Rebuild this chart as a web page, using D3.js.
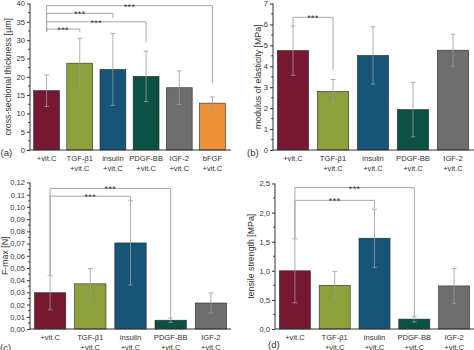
<!DOCTYPE html>
<html><head><meta charset="utf-8">
<script src="https://cdn.jsdelivr.net/npm/d3@7"></script>
<style>
html,body{margin:0;padding:0;background:#fff;}
svg{display:block;font-family:"Liberation Sans",Arial,sans-serif;}
</style></head>
<body><svg id="c" width="474" height="350"></svg>
<script>
// ---------- data ----------
const categories6 = [["+vit.C"],["TGF-β1","+vit.C"],["insulin","+vit.C"],["PDGF-BB","+vit.C"],["IGF-2","+vit.C"],["bFGF","+vit.C"]];
const categories5 = categories6.slice(0,5);
const barColors = ["#761832","#8ca03c","#165478","#0c5244","#6e6e6e","#eb9137"];

const thicknessMean = [16.2, 23.7, 22.0, 20.1, 17.0, 12.8];
const thicknessErr  = [4.3, 6.8, 9.8, 6.9, 4.6, 1.7];
const modulusMean = [4.75, 2.80, 4.52, 1.93, 4.77];
const modulusErr  = [1.18, 0.57, 1.37, 1.30, 0.76];
const fmaxMean = [0.0297, 0.0370, 0.0705, 0.0072, 0.0213];
const fmaxErr  = [0.0140, 0.0125, 0.0345, 0.0018, 0.0082];
const tensileMean = [1.00, 0.75, 1.56, 0.17, 0.74];
const tensileErr  = [0.55, 0.24, 0.50, 0.05, 0.30];

const ticksA = [0,5,10,15,20,25,30,35,40];
const ticksB = [0,1,2,3,4,5,6,7];
const ticksC = [0,0.01,0.02,0.03,0.04,0.05,0.06,0.07,0.08,0.09,0.10,0.11,0.12];
const tickLabelsC = ["0,00","0,01","0,02","0,03","0,04","0,05","0,06","0,07","0,08","0,09","0,10","0,11","0,12"];
const ticksD = [0,0.5,1.0,1.5,2.0,2.5];
const tickLabelsD = ["0,0","0,5","1,0","1,5","2,0","2,5"];

// significance brackets: from, to, level, left leg end, right leg end
const sigA = [
  {from:0,to:5,level:39.4,leftEnd:32.3,rightEnd:18.3},
  {from:0,to:2,level:37.3,leftEnd:32.3,rightEnd:36.0},
  {from:0,to:3,level:35.0,leftEnd:32.3,rightEnd:29.3},
  {from:0,to:1,level:33.0,leftEnd:32.3,rightEnd:32.3}
];
const sigB = [{from:0,to:1,level:6.34,leftEnd:5.97,rightEnd:3.84}];
const sigC = [
  {from:0,to:3,level:0.1151,leftEnd:0.0440,rightEnd:0.0095},
  {from:0,to:2,level:0.1088,leftEnd:0.0440,rightEnd:0.1050}
];
const sigD = [
  {from:0,to:3,level:2.43,leftEnd:1.56,rightEnd:0.23},
  {from:0,to:2,level:2.21,leftEnd:1.56,rightEnd:2.08}
];

// ---------- drawing ----------
const svg = d3.select("#c");

function panel(o){
  const g = svg.append("g");
  const x = d3.scaleBand().domain(d3.range(o.cats.length)).range([o.x0,o.x1]).paddingInner(0.22).paddingOuter(0.11);
  const y = d3.scaleLinear().domain([0,o.max]).range([o.yb,o.yt]);
  const rows = o.mean.map((m,i)=>({i,m,e:o.err[i]}));

  // bars
  g.selectAll("rect.bar").data(rows).join("rect")
    .attr("x",d=>x(d.i)).attr("width",x.bandwidth())
    .attr("y",d=>y(d.m)).attr("height",d=>y(0)-y(d.m))
    .attr("fill",d=>barColors[d.i]).attr("stroke","#2a2a2a").attr("stroke-width",0.6);

  // error bars
  const cw = 2.4;
  const eb = g.selectAll("g.eb").data(rows).join("g").attr("stroke","#9a9a9a").attr("stroke-width",0.8);
  eb.append("line").attr("x1",d=>x(d.i)+x.bandwidth()/2).attr("x2",d=>x(d.i)+x.bandwidth()/2)
    .attr("y1",d=>y(d.m-d.e)).attr("y2",d=>y(d.m+d.e));
  eb.append("line").attr("x1",d=>x(d.i)+x.bandwidth()/2-cw).attr("x2",d=>x(d.i)+x.bandwidth()/2+cw)
    .attr("y1",d=>y(d.m+d.e)).attr("y2",d=>y(d.m+d.e));
  eb.append("line").attr("x1",d=>x(d.i)+x.bandwidth()/2-cw).attr("x2",d=>x(d.i)+x.bandwidth()/2+cw)
    .attr("y1",d=>y(d.m-d.e)).attr("y2",d=>y(d.m-d.e));

  // brackets
  const cx = i => x(i)+x.bandwidth()/2;
  g.selectAll("path.sig").data(o.sig).join("path")
    .attr("fill","none").attr("stroke","#a8a8a8").attr("stroke-width",1)
    .attr("d",d=>`M${cx(d.from)},${y(d.leftEnd)}V${y(d.level)}H${cx(d.to)}V${y(d.rightEnd)}`);
  g.selectAll("text.star").data(o.sig).join("text")
    .attr("x",d=>(cx(d.from)+cx(d.to))/2).attr("y",d=>y(d.level)+4)
    .attr("text-anchor","middle").attr("font-size",9).attr("letter-spacing",0.4).attr("fill","#333").text("***");

  // y axis
  const ax = d3.axisLeft(y).tickValues(o.ticks).tickSize(3).tickPadding(2)
    .tickFormat((d,i)=>o.tickLabels ? o.tickLabels[i] : d);
  const ag = g.append("g").attr("transform",`translate(${o.x0},0)`).call(ax);
  ag.select(".domain").attr("stroke","#333").attr("d",`M0,${o.yb}V${o.yt}`);
  ag.selectAll(".tick line").attr("stroke","#333");
  ag.selectAll(".tick text").attr("font-size",7.6).attr("fill","#333").attr("font-family","Liberation Sans, Arial, sans-serif");
  // minor ticks
  const minors = o.ticks.slice(1).map((t,i)=>(t+o.ticks[i])/2);
  ag.selectAll("line.minor").data(minors).join("line")
    .attr("x1",-1.8).attr("x2",0).attr("y1",d=>y(d)).attr("y2",d=>y(d)).attr("stroke","#333");

  // x axis line
  g.append("line").attr("x1",o.x0).attr("x2",o.xEnd).attr("y1",o.yb).attr("y2",o.yb).attr("stroke","#333");

  // x labels
  const xl = g.selectAll("text.xl").data(o.cats.map((c,i)=>({c,i}))).join("text")
    .attr("text-anchor","middle").attr("font-size",7.6).attr("fill","#333");
  xl.each(function(d){
    const t = d3.select(this);
    d.c.forEach((line,k)=>{
      t.append("tspan").attr("x",cx(d.i)).attr("y",o.yb+11+k*10).text(line);
    });
  });

  // y title
  g.append("text").attr("transform",`translate(${o.titleX},${(o.yb+o.yt)/2}) rotate(-90)`)
    .attr("text-anchor","middle").attr("font-size",8.8).attr("fill","#333").text(o.title);

  // panel letter
  g.append("text").attr("x",o.letterX).attr("y",o.letterY).attr("font-size",9.5).attr("fill","#333").text(o.letter);
}

panel({cats:categories6,mean:thicknessMean,err:thicknessErr,max:40,ticks:ticksA,sig:sigA,
  x0:30,x1:229,xEnd:231,yb:150,yt:3.5,title:"cross-sectional thickness [µm]",titleX:11,letter:"(a)",letterX:0.5,letterY:155.5});
panel({cats:categories5,mean:modulusMean,err:modulusErr,max:7,ticks:ticksB,sig:sigB,
  x0:273,x1:473,xEnd:474,yb:150,yt:3.5,title:"modulus of elasticity [MPa]",titleX:261,letter:"(b)",letterX:247,letterY:155.5});
panel({cats:categories5,mean:fmaxMean,err:fmaxErr,max:0.12,ticks:ticksC,tickLabels:tickLabelsC,sig:sigC,
  x0:30,x1:231,xEnd:231,yb:329,yt:182.5,title:"F-max [N]",titleX:8,letter:"(c)",letterX:0,letterY:351});
panel({cats:categories5,mean:tensileMean,err:tensileErr,max:2.5,ticks:ticksD,tickLabels:tickLabelsD,sig:sigD,
  x0:275,x1:474,xEnd:474,yb:329,yt:183.5,title:"tensile strength [MPa]",titleX:254,letter:"(d)",letterX:268,letterY:348});
</script></body></html>
